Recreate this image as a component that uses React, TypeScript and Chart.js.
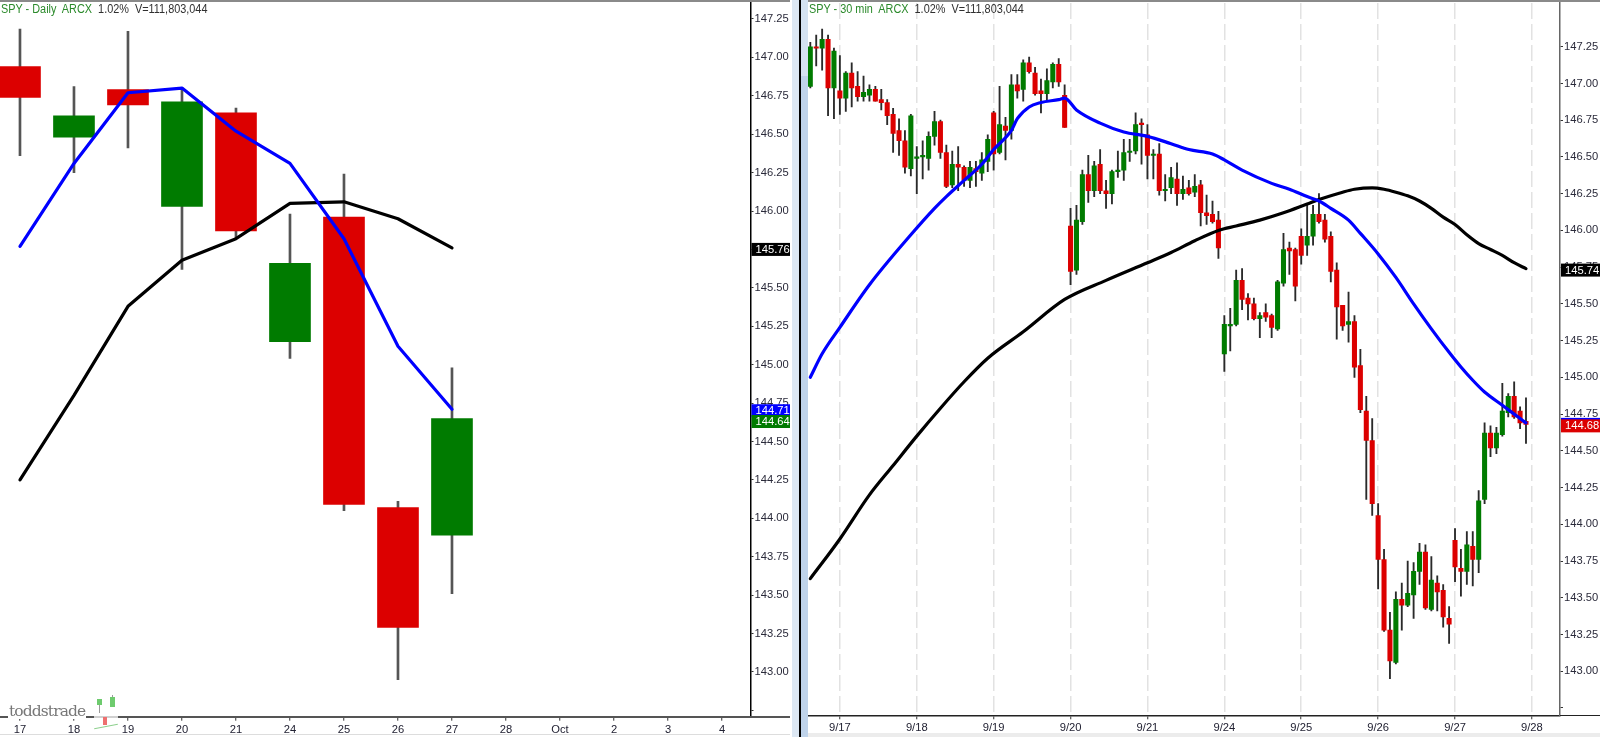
import React, { useEffect, useRef } from 'react';
import { Chart, registerables } from 'chart.js';

Chart.register(...registerables);

const AXIS_FONT = "'Liberation Sans', Arial, sans-serif";

const RED = '#dc0000';
const GREEN = '#007b00';
const BLUE = '#0000ff';
const BLACK = '#000000';

// daily pane
const dailyLabels = ['17', '18', '19', '20', '21', '24', '25', '26', '27', '28', 'Oct', '2', '3', '4'];
const dailyOpen = [146.94, 146.48, 146.79, 146.03, 146.64, 145.15, 145.96, 144.07, 143.89];
const dailyHigh = [147.185, 146.81, 147.17, 146.8, 146.67, 145.98, 146.24, 144.11, 144.98];
const dailyLow = [146.36, 146.25, 146.41, 145.62, 145.82, 145.04, 144.05, 142.95, 143.51];
const dailyClose = [146.74, 146.62, 146.69, 146.71, 145.87, 145.66, 144.09, 143.29, 144.65];
const dailyBlue = [145.77, 146.31, 146.77, 146.8, 146.52, 146.31, 145.82, 145.12, 144.71];
const dailyBlack = [144.25, 144.8, 145.38, 145.68, 145.82, 146.05, 146.06, 145.95, 145.76];
const dailyTicks = [147.25, 147, 146.75, 146.5, 146.25, 146, 145.75, 145.5, 145.25, 145, 144.75, 144.5, 144.25, 144, 143.75, 143.5, 143.25, 143, 142.75];

// 30 minute pane
const intraLabels = ['9/17', '9/18', '9/19', '9/20', '9/21', '9/24', '9/25', '9/26', '9/27', '9/28'];
const intraLabelAt = [5, 18, 31, 44, 57, 70, 83, 96, 109, 122];
const intraOpen = [
  146.98, 147.25, 147.24, 147.3, 146.97, 146.95, 146.9, 147.07, 146.98, 146.91, 146.92, 146.96, 146.89, 146.87, 146.79, 146.68, 146.61, 146.42,
  146.49, 146.5, 146.49, 146.64, 146.74, 146.53, 146.31, 146.45, 146.43, 146.34, 146.42, 146.39, 146.47, 146.8, 146.53, 146.71, 146.68, 146.99,
  146.96, 147.14, 147.07, 146.95, 146.93, 147.01, 147.13, 146.92, 146.03, 145.73, 146.06, 146.38, 146.27, 146.45, 146.27, 146.25, 146.4, 146.41,
  146.53, 146.54, 146.73, 146.65, 146.51, 146.52, 146.27, 146.29, 146.35, 146.25, 146.29, 146.26, 146.31, 146.12, 146.11, 146.07, 145.16, 145.35,
  145.36, 145.66, 145.54, 145.5, 145.4, 145.44, 145.42, 145.33, 145.64, 145.88, 145.87, 145.96, 145.9, 145.96, 146.11, 146.07, 145.96, 145.73,
  145.49, 145.36, 145.38, 145.08, 144.77, 144.57, 144.06, 143.76, 143.28, 143.06, 143.49, 143.45, 143.52, 143.68, 143.81, 143.42, 143.6, 143.55,
  143.36, 143.89, 143.7, 143.68, 143.85, 143.76, 144.17, 144.62, 144.52, 144.61, 144.76, 144.87, 144.77, 144.7,
];
const intraHigh = [
  147.28, 147.33, 147.37, 147.33, 147.24, 147.19, 147.08, 147.14, 147.08, 147.05, 146.99, 146.98, 146.96, 146.89, 146.83, 146.76, 146.68, 146.79,
  146.57, 146.61, 146.67, 146.81, 146.75, 146.58, 146.54, 146.57, 146.44, 146.47, 146.47, 146.53, 146.65, 146.81, 146.98, 146.77, 147.06, 147.06,
  147.16, 147.18, 147.11, 147.03, 147.1, 147.14, 147.17, 146.99, 146.15, 146.17, 146.41, 146.51, 146.47, 146.55, 146.34, 146.41, 146.54, 146.62,
  146.62, 146.8, 146.76, 146.72, 146.55, 146.59, 146.38, 146.43, 146.46, 146.37, 146.34, 146.38, 146.34, 146.24, 146.2, 146.13, 145.42, 145.47,
  145.73, 145.74, 145.57, 145.54, 145.44, 145.5, 145.43, 145.66, 145.98, 145.92, 145.88, 146.01, 146.17, 146.17, 146.25, 146.11, 145.99, 145.78,
  145.49, 145.58, 145.42, 145.19, 144.87, 144.72, 144.14, 143.83, 143.4, 143.54, 143.6, 143.75, 143.74, 143.87, 143.86, 143.78, 143.65, 143.59,
  143.44, 143.97, 143.83, 143.95, 143.95, 144.23, 144.69, 144.67, 144.66, 144.96, 144.89, 144.97, 144.8, 144.86,
];
const intraLow = [
  146.97, 147.12, 147.09, 146.78, 146.76, 146.79, 146.81, 146.84, 146.88, 146.88, 146.88, 146.88, 146.82, 146.72, 146.53, 146.51, 146.39, 146.37,
  146.25, 146.35, 146.41, 146.58, 146.49, 146.29, 146.29, 146.27, 146.3, 146.29, 146.3, 146.34, 146.4, 146.41, 146.52, 146.48, 146.62, 146.9,
  146.88, 147.07, 146.92, 146.8, 146.89, 146.97, 146.98, 146.7, 145.63, 145.7, 146.04, 146.19, 146.23, 146.25, 146.15, 146.18, 146.36, 146.34,
  146.47, 146.52, 146.45, 146.35, 146.35, 146.24, 146.2, 146.25, 146.17, 146.21, 146.24, 146.23, 146.03, 146.04, 146.05, 145.81, 145.04, 145.18,
  145.35, 145.46, 145.39, 145.39, 145.27, 145.38, 145.27, 145.32, 145.62, 145.7, 145.52, 145.77, 145.83, 145.9, 146.05, 145.92, 145.65, 145.26,
  145.32, 145.24, 145.0, 144.76, 144.17, 144.06, 143.56, 143.27, 142.95, 143.05, 143.28, 143.44, 143.36, 143.59, 143.42, 143.41, 143.41, 143.3,
  143.19, 143.61, 143.51, 143.59, 143.58, 143.67, 144.14, 144.46, 144.48, 144.6, 144.73, 144.72, 144.65, 144.55,
];
const intraClose = [
  147.25, 147.24, 147.3, 146.97, 147.22, 146.9, 147.07, 146.97, 146.91, 146.94, 146.96, 146.88, 146.87, 146.78, 146.66, 146.61, 146.43, 146.78,
  146.5, 146.51, 146.64, 146.74, 146.53, 146.3, 146.45, 146.43, 146.34, 146.43, 146.4, 146.48, 146.62, 146.52, 146.72, 146.68, 146.99, 146.95,
  147.14, 147.08, 146.93, 146.93, 147.02, 147.13, 147.01, 146.7, 145.72, 146.07, 146.38, 146.27, 146.44, 146.27, 146.25, 146.4, 146.41, 146.53,
  146.54, 146.72, 146.72, 146.51, 146.52, 146.27, 146.28, 146.36, 146.25, 146.28, 146.25, 146.3, 146.12, 146.1, 146.06, 145.88, 145.36, 145.36,
  145.66, 145.53, 145.5, 145.4, 145.42, 145.41, 145.34, 145.65, 145.87, 145.86, 145.62, 145.83, 145.96, 146.11, 146.06, 145.94, 145.72, 145.48,
  145.35, 145.38, 145.07, 144.78, 144.57, 144.14, 143.76, 143.28, 143.07, 143.49, 143.45, 143.53, 143.68, 143.81, 143.43, 143.62, 143.54, 143.37,
  143.32, 143.71, 143.68, 143.86, 143.76, 144.16, 144.62, 144.52, 144.62, 144.77, 144.87, 144.73, 144.69, 144.68,
];
const intraBlueAt = [0, 2, 5, 10, 17, 21, 23, 26, 29, 31, 34, 35, 37, 39, 42, 43, 45, 49, 53, 57, 61, 64, 68, 70, 73, 78, 81, 84, 86, 88, 91, 93, 96, 99, 102, 105, 108, 110, 112, 114, 117, 120, 121];
const intraBlue = [145.0, 145.16, 145.34, 145.63, 145.97, 146.15, 146.23, 146.34, 146.45, 146.55, 146.68, 146.76, 146.84, 146.87, 146.89, 146.9, 146.82, 146.73, 146.67, 146.64, 146.59, 146.55, 146.52, 146.48, 146.41, 146.32, 146.28, 146.23, 146.2, 146.15, 146.07, 145.98, 145.84, 145.68, 145.5, 145.33, 145.17, 145.07, 144.98, 144.9, 144.81, 144.72, 144.69];
const intraBlackAt = [0, 5, 10, 14, 18, 22, 26, 30, 36, 43, 50, 57, 61, 65, 69, 72, 76, 80, 84, 86, 90, 92, 95, 97, 99, 101, 103, 105, 107, 109, 111, 113, 115, 117, 119, 121];
const intraBlack = [143.63, 143.9, 144.2, 144.4, 144.6, 144.79, 144.97, 145.13, 145.31, 145.53, 145.66, 145.78, 145.85, 145.93, 146.0, 146.03, 146.07, 146.12, 146.18, 146.21, 146.26, 146.28, 146.29, 146.28, 146.26, 146.235, 146.2, 146.15, 146.09, 146.04, 145.97, 145.91, 145.87, 145.83, 145.78, 145.74];
const intraTicks = dailyTicks;

const candleSets = (open: number[], high: number[], low: number[], close: number[], bodyWidth: number, wickWidth: number, wickColor: string) => {
  const colors = open.map((o, i) => (close[i] >= o ? GREEN : RED));
  return [
    {
      type: 'bar',
      order: 2,
      grouped: false,
      barThickness: wickWidth,
      backgroundColor: wickColor,
      borderWidth: 0,
      data: low.map((l, i) => ({ x: i, y: [l, high[i]] })),
    },
    {
      type: 'bar',
      order: 1,
      grouped: false,
      barThickness: bodyWidth,
      backgroundColor: colors,
      borderWidth: 0,
      data: open.map((o, i) => ({ x: i, y: [o, close[i]] })),
    },
  ];
};

const lineSet = (xs: number[], ys: number[], color: string, mode: string) => ({
  type: 'line',
  order: 0,
  data: ys.map((y, i) => ({ x: xs[i], y })),
  borderColor: color,
  borderWidth: 3.2,
  borderCapStyle: 'round',
  borderJoinStyle: 'round',
  pointRadius: 0,
  cubicInterpolationMode: mode,
});

// price flags sitting on the axis, drawn over the tick labels
const flagPlugin = (flags: { value: number; color: string; show?: boolean }[]) => ({
  id: 'flags',
  afterDraw(chart: any) {
    const { ctx, scales, chartArea, width } = chart;
    ctx.save();
    flags.forEach((f) => {
      const y = scales.y.getPixelForValue(f.value) + 1.5;
      ctx.fillStyle = f.color;
      ctx.fillRect(chartArea.right + 1, y - 6.5, width - chartArea.right - 1, 13);
      if (f.show !== false) {
        ctx.fillStyle = '#ffffff';
        ctx.font = `11.2px ${AXIS_FONT}`;
        ctx.textBaseline = 'middle';
        ctx.fillText(f.value.toFixed(2), chartArea.right + 5, y + 0.5);
      }
    });
    ctx.restore();
  },
});

type PaneProps = {
  left: number;
  width: number;
  datasets: any[];
  xMin: number;
  xMax: number;
  yMin: number;
  yMax: number;
  yTicks: number[];
  tickAt: number[];
  tickLabels: string[];
  axisWidth: number;
  bottomHeight: number;
  xBorder: { color: string; width: number; dash?: number[] };
  yBorderColor: string;
  dayLines: boolean;
  flags: { value: number; color: string; show?: boolean }[];
};

const Pane: React.FC<PaneProps> = (p) => {
  const ref = useRef<HTMLCanvasElement | null>(null);

  useEffect(() => {
    if (!ref.current) return;
    const chart = new Chart(ref.current, {
      type: 'bar',
      data: { datasets: p.datasets },
      plugins: [flagPlugin(p.flags)],
      options: {
        animation: false,
        responsive: false,
        layout: { autoPadding: false, padding: { top: 3 } },
        plugins: { legend: { display: false }, tooltip: { enabled: false }, title: { display: false } },
        scales: {
          x: {
            type: 'linear',
            offset: false,
            min: p.xMin,
            max: p.xMax,
            afterFit: (s: any) => {
              s.height = p.bottomHeight;
              s.paddingLeft = 0;
              s.paddingRight = 0;
            },
            afterBuildTicks: (s: any) => {
              s.ticks = p.tickAt.map((value) => ({ value }));
            },
            border: p.xBorder,
            grid: {
              display: true,
              offset: false,
              drawOnChartArea: p.dayLines,
              color: '#e2e2e2',
              lineWidth: 1.5,
              tickColor: '#333333',
              tickLength: 4,
              tickWidth: 1,
            },
            ticks: {
              autoSkip: false,
              maxRotation: 0,
              padding: 2,
              color: '#222233',
              font: { family: AXIS_FONT, size: 11.2 },
              callback: (v: any) => p.tickLabels[p.tickAt.indexOf(v)],
            },
          },
          y: {
            type: 'linear',
            position: 'right',
            min: p.yMin,
            max: p.yMax,
            afterFit: (s: any) => {
              s.width = p.axisWidth;
              s.paddingTop = 0;
              s.paddingBottom = 0;
            },
            afterBuildTicks: (s: any) => {
              s.ticks = p.yTicks.map((value) => ({ value }));
            },
            border: { color: p.yBorderColor, width: 1.5 },
            grid: { drawOnChartArea: false, tickColor: '#333333', tickLength: 3, tickWidth: 1 },
            ticks: {
              padding: 1,
              color: '#2a2a3a',
              font: { family: AXIS_FONT, size: 11.2 },
              callback: (v: any) => (v < 143 ? '' : Number(v).toFixed(2)),
            },
          },
        },
      } as any,
    });
    return () => chart.destroy();
  }, []);

  return (
    <canvas
      ref={ref}
      width={p.width}
      height={737}
      style={{ position: 'absolute', left: p.left, top: 0, width: p.width, height: 737 }}
    />
  );
};

const box = (left: number, top: number, width: number, height: number, background: string): React.CSSProperties => ({
  position: 'absolute',
  left,
  top,
  width,
  height,
  background,
});

const Header: React.FC<{ left: number; name: string }> = ({ left, name }) => (
  <div
    style={{
      position: 'absolute',
      left,
      top: 2,
      font: "12.5px 'Liberation Sans', Arial, sans-serif",
      whiteSpace: 'pre',
      color: '#303030',
      transform: 'scaleX(0.87)',
      transformOrigin: 'left top',
    }}
  >
    <span style={{ color: '#2b8a2b' }}>{`SPY - ${name}  ARCX`}</span>
    {'  1.02%  V=111,803,044'}
  </div>
);

export default function App() {
  return (
    <div style={{ position: 'fixed', left: 0, top: 0, width: 1600, height: 737, overflow: 'hidden', background: '#ffffff' }}>
      <Pane
        left={0}
        width={790}
        datasets={[
          ...candleSets(dailyOpen, dailyHigh, dailyLow, dailyClose, 41, 2, '#555555'),
          lineSet(dailyOpen.map((_, i) => i), dailyBlue, BLUE, 'default'),
          lineSet(dailyOpen.map((_, i) => i), dailyBlack, BLACK, 'default'),
        ]}
        xMin={-0.37}
        xMax={13.528}
        yMin={142.709}
        yMax={147.354}
        yTicks={dailyTicks}
        tickAt={dailyLabels.map((_, i) => i)}
        tickLabels={dailyLabels}
        axisWidth={39.5}
        bottomHeight={20.3}
        xBorder={{ color: '#555555', width: 2 }}
        yBorderColor="#000000"
        dayLines={false}
        flags={[
          { value: 145.76, color: BLACK },
          { value: 144.71, color: BLUE },
          { value: 144.64, color: GREEN },
        ]}
      />
      <Pane
        left={808}
        width={792}
        datasets={[
          ...candleSets(intraOpen, intraHigh, intraLow, intraClose, 4.4, 1.2, '#2a2a2a'),
          lineSet(intraBlueAt, intraBlue, BLUE, 'monotone'),
          lineSet(intraBlackAt, intraBlack, BLACK, 'monotone'),
        ]}
        xMin={-0.389}
        xMax={126.75}
        yMin={142.7}
        yMax={147.5475}
        yTicks={intraTicks}
        tickAt={intraLabelAt}
        tickLabels={intraLabels}
        axisWidth={40}
        bottomHeight={21.7}
        xBorder={{ color: '#222222', width: 1.5, dash: [16, 5] }}
        yBorderColor="#666666"
        dayLines={true}
        flags={[
          { value: 145.74, color: BLACK },
          { value: 144.69, color: BLUE, show: false },
          { value: 144.68, color: RED },
        ]}
      />

      {/* window chrome */}
      <div style={box(0, 0, 790, 2, '#8a8a8a')} />
      <div style={box(808, 0, 792, 2, '#8a8a8a')} />
      <div style={box(750, 716, 40, 2, '#555555')} />
      <div style={box(1560, 714.5, 40, 1.5, '#222222')} />
      <div style={box(792, 0, 7, 737, '#dce7f3')} />
      <div style={box(799, 0, 1.5, 737, '#000000')} />
      <div style={box(801, 0, 7, 737, '#bfd3ea')} />
      <div style={box(801, 0, 7, 76, '#d4e2f1')} />
      <div style={box(0, 734, 790, 1, '#dddddd')} />
      <div style={box(808, 733, 792, 4, '#ececec')} />

      <Header left={1} name="Daily" />
      <Header left={809} name="30 min" />

      {/* watermark */}
      <div style={box(94, 715.5, 24, 2.5, '#d0d0d0')} />
      <div
        style={{
          position: 'absolute',
          left: 8,
          top: 703,
          font: "15.5px 'DejaVu Serif', 'Liberation Serif', serif",
          letterSpacing: -0.9,
          color: '#777777',
          background: '#ffffff',
          padding: '0 1px',
          lineHeight: '16px',
        }}
      >
        toddstrade
      </div>
      <div style={box(98.5, 704, 1, 9, '#9a9a9a')} />
      <div style={box(96.5, 699, 5, 6, '#6ecb6e')} />
      <div style={box(112, 695, 1, 3, '#9a9a9a')} />
      <div style={box(110, 697, 5, 10, '#6ecb6e')} />
      <div style={box(103, 717, 4, 8, '#ee7070')} />
      <div style={{ ...box(94, 726, 24, 1, '#8ed08e'), transform: 'rotate(-11deg)' }} />
    </div>
  );
}
